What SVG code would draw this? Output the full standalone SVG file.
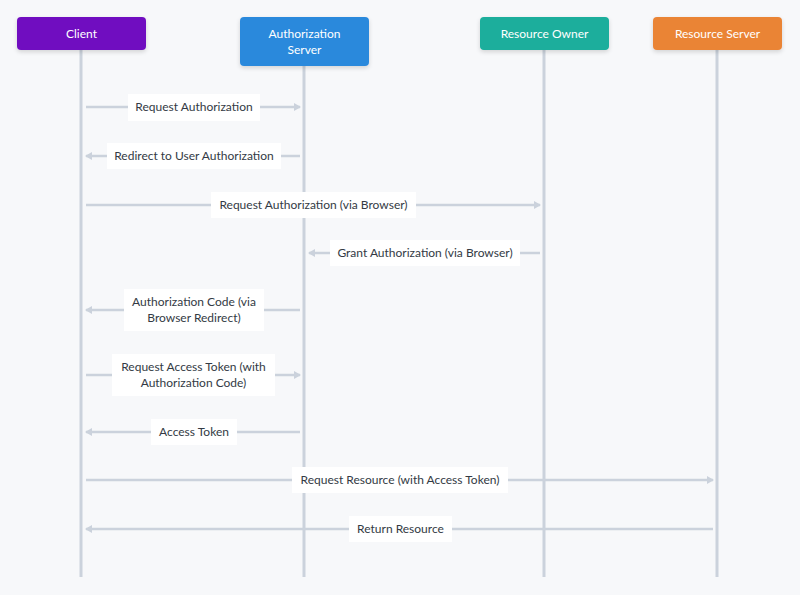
<svg xmlns="http://www.w3.org/2000/svg" width="800" height="595" viewBox="0 0 800 595">
<style>
text{font-family:Lato,"Noto Sans",sans-serif;font-size:12px;text-anchor:middle}
.h{fill:#fff}
.life{stroke:#cbd2dc;stroke-width:3}
.msg{stroke:#cbd2dc;stroke-width:2.5;fill:none;marker-end:url(#a)}
.lb{fill:#fff}
.lt{fill:#333a44}
</style>
<defs>
<marker id="a" markerWidth="8" markerHeight="8" refX="6" refY="4" orient="auto" markerUnits="userSpaceOnUse"><path d="M0,0L7,4L0,8z" fill="#cbd2dc"/></marker>
<filter id="s" x="-20%" y="-20%" width="140%" height="160%"><feDropShadow dx="0" dy="2" stdDeviation="2" flood-opacity="0.15"/></filter>
</defs>
<rect width="800" height="595" fill="#f7f8fa"/>
<g id="lifelines">
<line class="life" x1="81" y1="50" x2="81" y2="577"/>
<line class="life" x1="304" y1="66" x2="304" y2="577"/>
<line class="life" x1="544" y1="50" x2="544" y2="577"/>
<line class="life" x1="717" y1="50" x2="717" y2="577"/>
</g>
<g id="client"><rect x="17" y="17" width="129" height="33" rx="4" fill="#7010c0" filter="url(#s)"/><text class="h" x="81.5" y="38">Client</text></g>
<g id="authserver"><rect x="240" y="17" width="129" height="49" rx="4" fill="#2b89dc" filter="url(#s)"/><text class="h" x="304.5" y="38">Authorization</text><text class="h" x="304.5" y="54">Server</text></g>
<g id="owner"><rect x="480" y="17" width="129" height="33" rx="4" fill="#1aae9c" filter="url(#s)"/><text class="h" x="544.5" y="38">Resource Owner</text></g>
<g id="resserver"><rect x="653" y="17" width="129" height="33" rx="4" fill="#ea8436" filter="url(#s)"/><text class="h" x="717.5" y="38">Resource Server</text></g>
<g id="connectors">
<line class="msg" x1="86" y1="107" x2="300" y2="107"/>
<line class="msg" x1="300" y1="156" x2="86" y2="156"/>
<line class="msg" x1="86" y1="205" x2="540" y2="205"/>
<line class="msg" x1="540" y1="253" x2="309" y2="253"/>
<line class="msg" x1="300" y1="310" x2="86" y2="310"/>
<line class="msg" x1="86" y1="375" x2="300" y2="375"/>
<line class="msg" x1="300" y1="432" x2="86" y2="432"/>
<line class="msg" x1="86" y1="480" x2="713" y2="480"/>
<line class="msg" x1="713" y1="529" x2="86" y2="529"/>
</g>
<g id="labels">
<rect class="lb" x="128" y="94" width="132" height="27"/><text class="lt" x="194" y="111">Request Authorization</text>
<rect class="lb" x="107" y="143" width="174" height="26"/><text class="lt" x="194" y="160">Redirect to User Authorization</text>
<rect class="lb" x="211" y="192" width="205" height="26"/><text class="lt" x="313.5" y="209">Request Authorization (via Browser)</text>
<rect class="lb" x="330" y="240" width="190" height="26"/><text class="lt" x="425" y="257">Grant Authorization (via Browser)</text>
<rect class="lb" x="124" y="289" width="140" height="42"/><text class="lt" x="194" y="306">Authorization Code (via</text><text class="lt" x="194" y="322">Browser Redirect)</text>
<rect class="lb" x="112" y="354" width="163" height="42"/><text class="lt" x="193.5" y="371">Request Access Token (with</text><text class="lt" x="193.5" y="387">Authorization Code)</text>
<rect class="lb" x="151" y="419" width="86" height="26"/><text class="lt" x="194" y="436">Access Token</text>
<rect class="lb" x="292" y="467" width="216" height="26"/><text class="lt" x="400" y="484">Request Resource (with Access Token)</text>
<rect class="lb" x="349" y="516" width="103" height="26"/><text class="lt" x="400.5" y="533">Return Resource</text>
</g>
</svg>
